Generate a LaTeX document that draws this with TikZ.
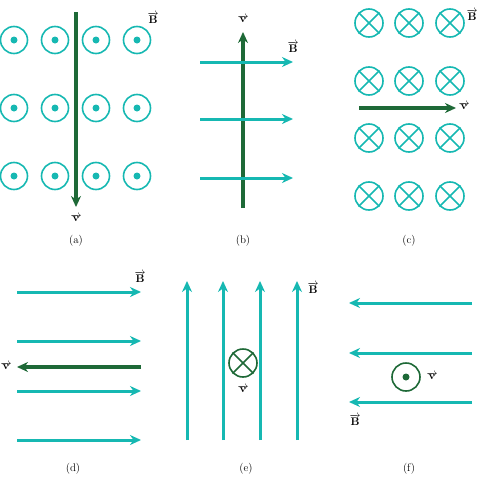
\documentclass[tikz,border=0pt]{standalone}
\usetikzlibrary{arrows.meta}
\definecolor{fieldcyan}{RGB}{22,184,178}
\definecolor{velgreen}{RGB}{30,105,55}

\begin{document}
\begin{tikzpicture}[%
    x=1pt, y=-1pt,                        % work in pixels, top-down
    >={Stealth[length=11pt,width=10pt]},  % broad arrow heads
    ]
% -------------------------------------------------
% Styles for field lines, velocity and symbols
\tikzset{
  field/.style={->, line width=3pt, fieldcyan},
  vel/.style={->, line width=3.2pt, velgreen},
  ring/.style={circle, draw=fieldcyan, line width=1.6pt, minimum size=27pt, inner sep=0pt},
  vring/.style={ring, draw=velgreen},
  dot/.style={circle, fill=fieldcyan, minimum size=7pt, inner sep=0pt},
  vdot/.style={dot, fill=velgreen},
  xline/.style={fieldcyan, line width=1.6pt},
  lbl/.style={font=\fontsize{11}{13}\selectfont, inner sep=1pt},
  captext/.style={font=\fontsize{11}{13}\selectfont}
}
\useasboundingbox (0,0) rectangle (480,477);
% -------------------------------------------------
% (a) field out of page, v downward
\foreach \i/\x in {1/14,2/55,3/96,4/137}
  \foreach \j/\y in {1/40,2/108,3/176} {
    \node [ring] (a\i\j) at (\x,\y) {};
    \node [dot] (ad\i\j) at (a\i\j) {};
  }
\coordinate (atop) at (76,12);
\coordinate (abot) at (76,207);
\draw[vel] (atop) -- (abot);
\node [lbl] (aB) at (153,18) {$\overrightarrow{\mathbf{B}}$};
\node [lbl] (av) at (76,218) {$\overrightarrow{\mathbf{v}}$};
\node [captext] (capa) at (76,241) {(a)};

% (b) field to the right, v upward
\coordinate (bbot) at (243,208);
\coordinate (btop) at (243,32);
\draw[vel] (bbot) -- (btop);
\foreach \k/\y in {1/62,2/119,3/178} {
  \coordinate (bl\k) at (200,\y);
  \coordinate (br\k) at (293,\y);
  \draw[field] (bl\k) -- (br\k);
}
\node [lbl] (bB) at (293,47) {$\overrightarrow{\mathbf{B}}$};
\node [lbl] (bv) at (243,19) {$\overrightarrow{\mathbf{v}}$};
\node [captext] (capb) at (243,241) {(b)};

% (c) field into page, v to the right
\foreach \i/\x in {1/369,2/409,3/450}
  \foreach \j/\y in {1/23,2/81,3/138,4/196} {
    \node [ring, minimum size=28pt] (c\i\j) at (\x,\y) {};
    \draw[xline] (c\i\j.45) -- (c\i\j.225);
    \draw[xline] (c\i\j.135) -- (c\i\j.315);
  }
\coordinate (cl) at (359,108);
\coordinate (cr) at (456,108);
\draw[vel] (cl) -- (cr);
\node [lbl] (cB) at (472,15) {$\overrightarrow{\mathbf{B}}$};
\node [lbl] (cv) at (464,106) {$\overrightarrow{\mathbf{v}}$};
\node [captext] (capc) at (409,241) {(c)};

% (d) field to the right, v to the left
\foreach \k/\y in {1/292,2/341,3/391,4/440} {
  \coordinate (dl\k) at (17,\y);
  \coordinate (dr\k) at (141,\y);
  \draw[field] (dl\k) -- (dr\k);
}
\coordinate (dvr) at (141,367);
\coordinate (dvl) at (17,367);
\draw[vel] (dvr) -- (dvl);
\node [lbl] (dB) at (140,277) {$\overrightarrow{\mathbf{B}}$};
\node [lbl] (dv) at (6,366) {$\overrightarrow{\mathbf{v}}$};
\node [captext] (capd) at (73,469) {(d)};

% (e) field upward, v into page
\foreach \k/\x in {1/187,2/223,3/260,4/297} {
  \coordinate (eb\k) at (\x,440);
  \coordinate (et\k) at (\x,281);
  \draw[field] (eb\k) -- (et\k);
}
\node [vring, fill=white, minimum size=28pt] (ex) at (243,363) {};
\draw[velgreen, line width=1.6pt] (ex.45) -- (ex.225);
\draw[velgreen, line width=1.6pt] (ex.135) -- (ex.315);
\node [lbl] (eB) at (313,288) {$\overrightarrow{\mathbf{B}}$};
\node [lbl] (ev) at (243,389) {$\overrightarrow{\mathbf{v}}$};
\node [captext] (cape) at (246,469) {(e)};

% (f) field to the left, v out of page
\foreach \k/\y in {1/303,2/353,3/402} {
  \coordinate (fr\k) at (472,\y);
  \coordinate (fl\k) at (349,\y);
  \draw[field] (fr\k) -- (fl\k);
}
\node [vring, minimum size=28pt] (fo) at (406,377) {};
\node [vdot] (fd) at (fo) {};
\node [lbl] (fv) at (432,376) {$\overrightarrow{\mathbf{v}}$};
\node [lbl] (fB) at (355,420) {$\overrightarrow{\mathbf{B}}$};
\node [captext] (capf) at (409,469) {(f)};
% -------------------------------------------------
\end{tikzpicture}
\end{document}
